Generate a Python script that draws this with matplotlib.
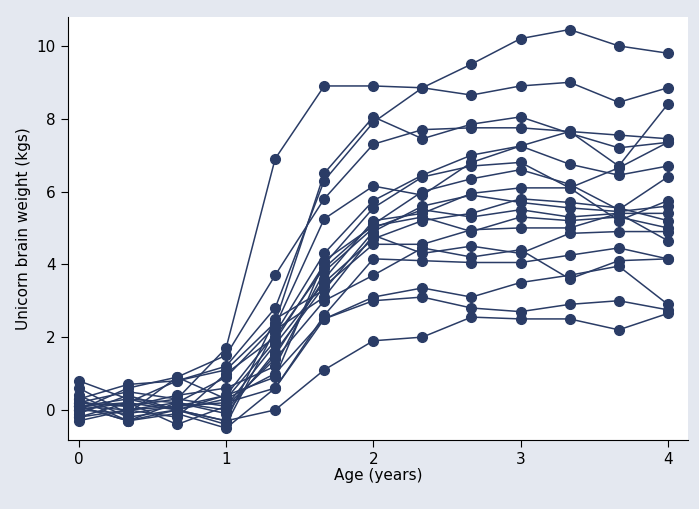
import matplotlib
matplotlib.use("Agg")
import matplotlib.pyplot as plt

ages = [0, 1/3, 2/3, 1, 4/3, 5/3, 2, 7/3, 8/3, 3, 10/3, 11/3, 4]
weights = [
    [0.2, 0.1, 0.3, 1.7, 6.9, 8.9, 8.9, 8.85, 9.5, 10.2, 10.45, 10.0, 9.8],
    [0.1, 0.2, 0.8, 1.2, 2.8, 6.3, 7.9, 8.85, 8.65, 8.9, 9.0, 8.45, 8.85],
    [0.3, 0.7, 0.8, 1.1, 2.4, 6.5, 8.05, 7.45, 7.85, 8.05, 7.6, 7.2, 7.35],
    [0.0, 0.6, 0.9, 1.5, 3.7, 5.8, 7.3, 7.7, 7.75, 7.75, 7.65, 6.7, 8.4],
    [0.8, 0.3, 0.2, 0.9, 2.3, 5.25, 6.15, 5.9, 6.8, 7.25, 7.65, 7.55, 7.45],
    [-0.2, 0.0, 0.1, 0.4, 2.1, 4.3, 5.75, 6.45, 7.0, 7.25, 6.75, 6.45, 6.7],
    [0.6, -0.1, 0.9, 0.3, 1.9, 4.0, 5.55, 6.4, 6.7, 6.8, 6.1, 6.65, 7.35],
    [0.1, 0.0, -0.2, 1.0, 2.0, 3.9, 5.1, 6.0, 6.35, 6.6, 6.2, 5.5, 6.4],
    [0.3, -0.3, 0.2, 0.0, 1.5, 3.6, 5.2, 5.4, 5.95, 6.1, 6.1, 5.2, 5.75],
    [-0.1, 0.4, 0.0, -0.3, 2.5, 3.3, 4.9, 5.6, 5.9, 5.7, 5.55, 5.45, 5.6],
    [0.2, 0.1, 0.4, 0.6, 1.2, 3.8, 5.0, 5.5, 5.3, 5.5, 5.3, 5.4, 5.4],
    [0.0, 0.2, -0.4, 0.1, 1.8, 3.5, 4.7, 5.2, 5.4, 5.8, 5.7, 5.55, 5.2],
    [0.4, -0.2, 0.0, 0.4, 0.9, 4.1, 5.05, 5.3, 4.9, 5.3, 5.2, 5.3, 5.0],
    [-0.3, 0.0, 0.2, -0.1, 1.6, 3.4, 4.55, 4.55, 4.95, 5.0, 5.0, 5.4, 4.65],
    [0.1, 0.3, 0.0, -0.4, 2.2, 3.1, 4.8, 4.3, 4.5, 4.3, 4.85, 4.9, 4.9],
    [0.0, -0.1, 0.1, 0.2, 0.6, 2.6, 4.15, 4.1, 4.05, 4.05, 4.25, 4.45, 4.15],
    [0.2, 0.5, 0.3, 0.1, 1.4, 3.0, 3.7, 4.45, 4.2, 4.4, 3.6, 4.1, 4.15],
    [-0.2, 0.2, 0.0, 0.3, 1.0, 2.5, 3.1, 3.35, 3.1, 3.5, 3.7, 3.95, 2.9],
    [0.1, -0.3, -0.1, -0.5, 0.6, 2.5, 3.0, 3.1, 2.8, 2.7, 2.9, 3.0, 2.75],
    [0.1, -0.3, 0.0, -0.3, 0.0, 1.1, 1.9, 2.0, 2.55, 2.5, 2.5, 2.2, 2.65],
]

navy = "#2a3c66"
fig = plt.figure(figsize=(6.99, 5.09), dpi=100, facecolor="#e4e8f0")
ax = fig.add_axes([0.097, 0.136, 0.887, 0.831])
for w in weights:
    ax.plot(ages, w, color=navy, lw=1.1, marker="o", ms=7, mec=navy, mfc=navy)
ax.set_xlim(-0.075, 4.136)
ax.set_ylim(-0.82, 10.8)
ax.set_xticks([0, 1, 2, 3, 4])
ax.set_yticks([0, 2, 4, 6, 8, 10])
ax.set_xlabel("Age (years)", fontsize=11, labelpad=1)
ax.set_ylabel("Unicorn brain weight (kgs)", fontsize=11)
ax.tick_params(labelsize=11, length=5)
for s in ["top", "right"]:
    ax.spines[s].set_visible(False)
fig.savefig("out.png", dpi=100, facecolor=fig.get_facecolor())
